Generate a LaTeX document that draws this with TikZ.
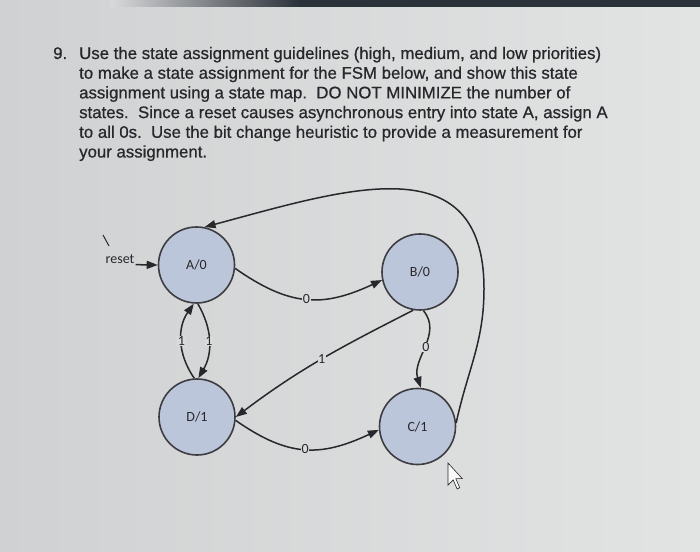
\documentclass[tikz,border=0pt]{standalone}
\usepackage{fontspec}
\setmainfont{Liberation Sans}
\newfontfamily\lblfont{Carlito}
\usetikzlibrary{arrows.meta,positioning}
\definecolor{screengrey}{RGB}{217,218,219}
\definecolor{screendark}{RGB}{208,209,210}
\definecolor{screenlight}{RGB}{226,227,227}
\definecolor{bezel}{RGB}{44,50,58}
\definecolor{inkgrey}{RGB}{40,40,44}
\definecolor{stateblue}{RGB}{188,198,219}

\begin{document}
\begin{tikzpicture}[x=1pt,y=1pt,
  every node/.style={font=\lblfont\fontsize{14}{16}\selectfont,text=inkgrey},
  state/.style={circle,draw=inkgrey!90,fill=stateblue,line width=1.6pt,
                minimum size=76pt,inner sep=0pt},
  qline/.style={anchor=base west,inner sep=0pt,
                font=\fontsize{16.8}{19.7}\selectfont\addfontfeature{FakeBold=0.7}},
  elbl/.style={fill=screengrey,inner sep=0.6pt},
  ar/.style={-{Triangle[length=11pt,width=8pt]},draw=inkgrey,line width=1.5pt}]
\useasboundingbox (0,0) rectangle (700,551);
\shade[left color=screendark,right color=screenlight] (0,0) rectangle (700,551);
\shade[left color=screengrey,right color=bezel] (110,544) rectangle (300,551);
\fill[bezel] (300,544) rectangle (700,551);
% question text
\node[qline] (qnum) at (53,492) {9.};
\foreach \txt [count=\i from 0] in {%
  {Use the state assignment guidelines (high, medium, and low priorities)},
  {to make a state assignment for the FSM below, and show this state},
  {assignment using a state map.\ \ DO NOT MINIMIZE the number of},
  {states.\ \ Since a reset causes asynchronous entry into state A, assign A},
  {to all 0s.\ \ Use the bit change heuristic to provide a measurement for},
  {your assignment.}}
  \node[qline] (q\i) at (79,492-19.7*\i) {\txt};
% states
\node[state] (A) at (196.5,286) {A/0};
\node[state] (B) at (420,279) {B/0};
\node[state] (D) at (197,134) {D/1};
\node[state] (C) at (417.5,124.5) {C/1};
\node[inner sep=1pt] (rst) at (120,292) {reset};
\coordinate (cbend) at (484,262);
% transitions
\draw[ar] (rst.south east) -- (A.west);
\draw[ar] (A.-5) to[out=-35,in=205,looseness=1.15] node[elbl] {0} (B.192);
\draw[ar] (B.-85) to[out=-50,in=108] node[elbl] {0} (C.85);
\draw[ar] (B.-100) to[out=207,in=37] node[elbl] {1} (D.0);
\draw[ar] (D.-5) to[out=-35,in=205,looseness=1.15] node[elbl] {0} (C.185);
\draw[ar] (A.-88) to[out=-60,in=60] node[elbl] {1} (D.88);
\draw[ar] (D.94) to[out=125,in=-125] node[elbl] {1} (A.-94);
\draw[ar] (C.5) to[out=78,in=-90] (cbend) to[out=90,in=15,looseness=1.3] (A.78);
% stray mark and pointer
\draw[inkgrey,line width=1pt] (103,316) -- (109,305);
\draw[fill=white!85!screengrey,draw=inkgrey,line width=0.6pt,shift={(448,88)},scale=1.3]
  (0,0) -- (0,-17) -- (4,-13) -- (7,-20) -- (9,-19) -- (6,-12) -- (11,-12) -- cycle;
\end{tikzpicture}
\end{document}
